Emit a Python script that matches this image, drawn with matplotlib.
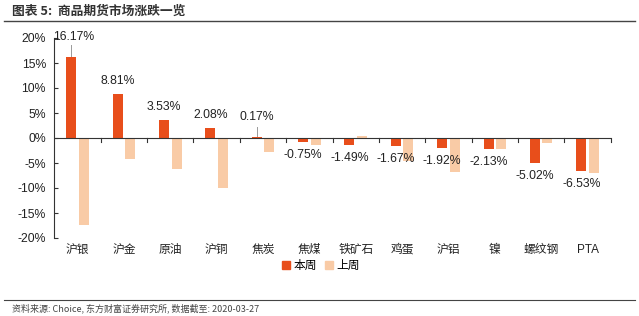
import matplotlib
matplotlib.use("Agg")
import matplotlib.pyplot as plt
import numpy as np
from matplotlib.patches import Rectangle
from matplotlib.lines import Line2D

plt.rcParams['font.family'] = ['Liberation Sans', 'Noto Sans CJK SC', 'DejaVu Sans']

categories = ['沪银', '沪金', '原油', '沪铜', '焦炭', '焦煤', '铁矿石', '鸡蛋', '沪铝', '镍', '螺纹钢', 'PTA']
this_week = [16.17, 8.81, 3.53, 2.08, 0.17, -0.75, -1.49, -1.67, -1.92, -2.13, -5.02, -6.53]
last_week = [-17.4, -4.1, -6.1, -9.9, -2.7, -1.4, 0.4, -4.6, -6.7, -2.2, -0.9, -6.9]
yticks = [-20, -15, -10, -5, 0, 5, 10, 15, 20]

c_this = '#E84E1B'
c_last = '#F9CBA6'

fig = plt.figure(figsize=(6.39, 3.16), dpi=100)
ax = fig.add_axes([54.4/639, 1-238/316, (610.7-54.4)/639, 200/316])

x = np.arange(len(categories))
w = 0.215
off = 0.135
ax.bar(x - off, this_week, width=w, color=c_this, zorder=2)
ax.bar(x + off, last_week, width=w, color=c_last, zorder=2)

ax.set_xlim(-0.5, len(categories) - 0.5)
ax.set_ylim(-20, 20)
ax.set_yticks(yticks)
ax.set_yticklabels([f'{v}%' for v in yticks], fontsize=8.8, color='#222222')
ax.tick_params(axis='y', direction='in', length=3, width=0.8, pad=6, color='#333333')
ax.set_xticks([])
for s in ['top', 'right', 'bottom']:
    ax.spines[s].set_visible(False)
ax.spines['left'].set_color('#333333')
ax.spines['left'].set_linewidth(0.8)

# zero axis line with boundary ticks
ax.axhline(0, color='#333333', lw=0.8, zorder=3)
for b in np.arange(0.5, len(categories) - 0.4, 1.0):
    ax.plot([b, b], [0, -0.7], color='#333333', lw=0.8, zorder=3, clip_on=False)

# value labels
for i, v in enumerate(this_week):
    xc = i - off
    if i == 0:
        ax.plot([xc, xc], [v, 18.6], color='#999999', lw=0.7, zorder=1)
        ax.text(xc + 0.05, 20.3, f'{v:.2f}%', ha='center', va='center', fontsize=8.8, color='#222222', clip_on=False)
    elif i == 4:
        ax.plot([xc, xc], [v, 2.3], color='#999999', lw=0.7, zorder=1)
        ax.text(xc, 4.1, f'{v:.2f}%', ha='center', va='center', fontsize=8.8, color='#222222')
    elif v >= 0:
        ax.text(xc, v + 2.6, f'{v:.2f}%', ha='center', va='center', fontsize=8.8, color='#222222')
    else:
        ax.text(xc, v - 2.6, f'{v:.2f}%', ha='center', va='center', fontsize=8.8, color='#222222')

# category labels
for i, c in enumerate(categories):
    fig.text((54.4 + (i + 0.5) * (610.7 - 54.4) / 12) / 639, 1 - 250/316, c,
             ha='center', va='center', fontsize=8.5, color='#222222')

# legend
leg_handles = [Rectangle((0, 0), 1, 1, color=c_this), Rectangle((0, 0), 1, 1, color=c_last)]
fig.legend(leg_handles, ['本周', '上周'], loc='center', bbox_to_anchor=(321/639, 1-266/316),
           ncol=2, frameon=False, fontsize=8.5, handlelength=0.7, handleheight=0.7,
           handletextpad=0.3, columnspacing=0.6, borderpad=0)

# title and separators
fig.text(12/639, 1-11/316, '图表 5:  商品期货市场涨跌一览', ha='left', va='center',
         fontsize=9.2, fontweight='bold', color='#333333', family=['Noto Sans CJK SC', 'DejaVu Sans'])
fig.add_artist(Line2D([4/639, 635/639], [1-20.5/316, 1-20.5/316], color='#444444', lw=1.0))
fig.add_artist(Line2D([4/639, 635/639], [1-299.5/316, 1-299.5/316], color='#444444', lw=0.8))
fig.text(12/639, 1-308/316, '资料来源: Choice, 东方财富证券研究所, 数据截至: 2020-03-27', ha='left', va='center',
         fontsize=6.5, color='#444444', family=['Noto Sans CJK SC', 'DejaVu Sans'])

fig.savefig('out.png', dpi=100)
